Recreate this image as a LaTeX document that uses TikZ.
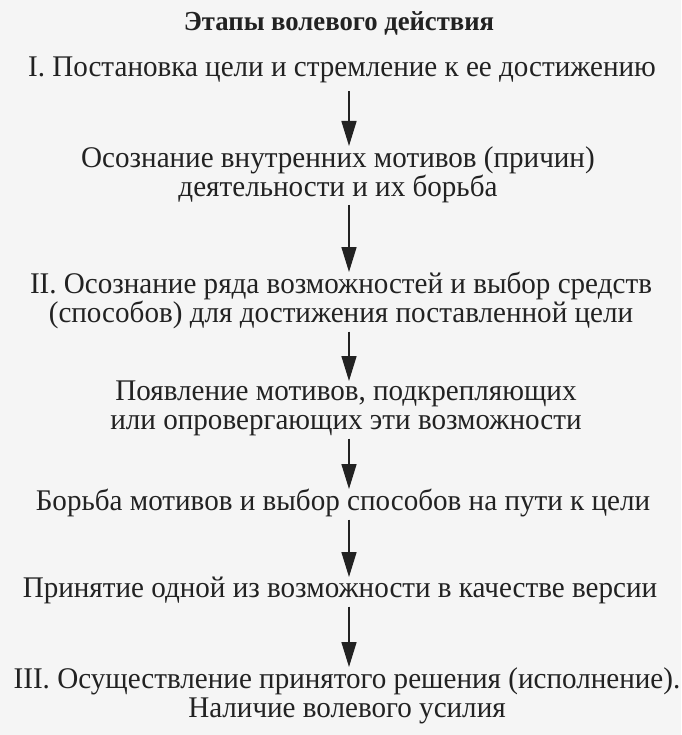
\documentclass[tikz,border=0pt]{standalone}
\usepackage{fontspec}
\setmainfont{Liberation Serif}[FakeStretch=0.97]
\usetikzlibrary{arrows.meta}
\definecolor{ink}{HTML}{222222}
\definecolor{paper}{HTML}{F5F5F5}
\begin{document}
\begin{tikzpicture}[x=1pt,y=-1pt,
  txt/.style={text=ink, font=\fontsize{30}{29}\selectfont, align=center, inner sep=0pt, anchor=north,
              execute at begin node=\strut, execute at end node=\strut},
  ttl/.style={txt, font=\bfseries\fontsize{27.5}{29}\selectfont},
  flow/.style={draw=ink, line width=1.6pt, -{Triangle[length=25pt,width=15pt]}}]
\fill[paper] (0,0) rectangle (681,735);
\coordinate (axis) at (349,0);
\node[ttl] (title) at (339,10) {Этапы волевого действия};
\node[txt] (s1) at (342,56) {I. Постановка цели и стремление к ее достижению};
\node[txt] (m1) at (338,146) {Осознание внутренних мотивов (причин)\\деятельности и их борьба};
\node[txt] (s2) at (341,272) {II. Осознание ряда возможностей и выбор средств\\(способов) для достижения поставленной цели};
\node[txt] (m2) at (346,381) {Появление мотивов, подкрепляющих\\или опровергающих эти возможности};
\node[txt] (m3) at (343,489) {Борьба мотивов и выбор способов на пути к цели};
\node[txt] (m4) at (340,577) {Принятие одной из возможности в качестве версии};
\node[txt] (s3) at (347,667) {III. Осуществление принятого решения (исполнение).\\Наличие волевого усилия};
\draw[flow, shorten <=6pt] (s1.south -| axis) -- (m1.north -| axis);
\draw[flow] (m1.south -| axis) -- (s2.north -| axis);
\draw[flow] (s2.south -| axis) -- (m2.north -| axis);
\draw[flow] (m2.south -| axis) -- (m3.north -| axis);
\draw[flow] (m3.south -| axis) -- (m4.north -| axis);
\draw[flow] (m4.south -| axis) -- (s3.north -| axis);
\end{tikzpicture}
\end{document}
